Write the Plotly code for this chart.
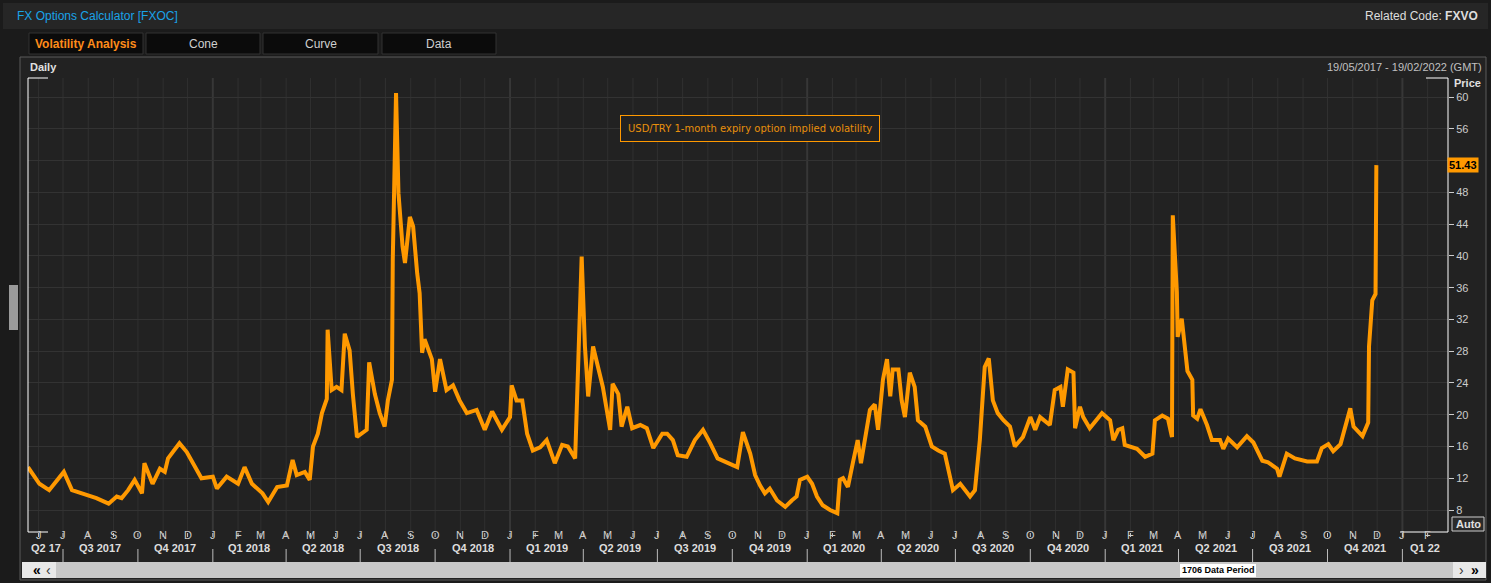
import plotly.graph_objects as go
import pandas as pd

dates = ["2017-05-19","2017-06-02","2017-06-14","2017-07-02","2017-07-12","2017-07-24","2017-08-11","2017-08-26",
"2017-09-05","2017-09-11","2017-09-19","2017-09-27","2017-10-06","2017-10-09","2017-10-19","2017-10-28","2017-11-03",
"2017-11-07","2017-11-21","2017-11-30","2017-12-12","2017-12-18","2018-01-01","2018-01-06","2018-01-18","2018-02-01",
"2018-02-09","2018-02-18","2018-03-03","2018-03-10","2018-03-21","2018-04-02","2018-04-09","2018-04-14","2018-04-24",
"2018-04-30","2018-05-04","2018-05-10","2018-05-15","2018-05-21","2018-05-22","2018-05-27","2018-06-02","2018-06-08",
"2018-06-12","2018-06-18","2018-06-22","2018-06-27","2018-07-09","2018-07-12","2018-07-19","2018-07-25","2018-07-31",
"2018-08-04","2018-08-09","2018-08-10","2018-08-14","2018-08-17","2018-08-22","2018-08-25","2018-08-31","2018-09-04",
"2018-09-09","2018-09-12","2018-09-15","2018-09-18","2018-09-27","2018-10-01","2018-10-07","2018-10-15","2018-10-23",
"2018-10-31","2018-11-09","2018-11-21","2018-12-01","2018-12-10","2018-12-22","2019-01-01","2019-01-03","2019-01-09",
"2019-01-16","2019-01-22","2019-01-29","2019-02-07","2019-02-15","2019-02-25","2019-03-06","2019-03-13","2019-03-22",
"2019-03-25","2019-03-30","2019-04-03","2019-04-07","2019-04-13","2019-04-18","2019-04-25","2019-05-04","2019-05-07",
"2019-05-14","2019-05-18","2019-05-25","2019-05-31","2019-06-10","2019-06-18","2019-06-26","2019-07-07","2019-07-13",
"2019-07-20","2019-07-26","2019-08-06","2019-08-16","2019-08-26","2019-09-04","2019-09-13","2019-09-26","2019-10-07",
"2019-10-14","2019-10-23","2019-10-29","2019-11-04","2019-11-10","2019-11-16","2019-11-25","2019-12-05","2019-12-13",
"2019-12-19","2019-12-23","2020-01-01","2020-01-07","2020-01-13","2020-01-20","2020-01-29","2020-02-07","2020-02-10",
"2020-02-14","2020-02-20","2020-02-26","2020-03-03","2020-03-07","2020-03-12","2020-03-18","2020-03-24","2020-03-28",
"2020-04-03","2020-04-08","2020-04-12","2020-04-15","2020-04-22","2020-04-26","2020-04-30","2020-05-06","2020-05-12",
"2020-05-16","2020-05-25","2020-06-02","2020-06-10","2020-06-18","2020-06-28","2020-07-07","2020-07-19","2020-07-25",
"2020-07-31","2020-08-06","2020-08-11","2020-08-16","2020-08-22","2020-08-29","2020-09-06","2020-09-12","2020-09-22",
"2020-10-01","2020-10-07","2020-10-13","2020-10-25","2020-10-31","2020-11-07","2020-11-10","2020-11-16","2020-11-23",
"2020-11-25","2020-12-01","2020-12-05","2020-12-13","2020-12-28","2021-01-07","2021-01-11","2021-01-17","2021-01-22",
"2021-01-25","2021-02-09","2021-02-19","2021-02-28","2021-03-03","2021-03-12","2021-03-19","2021-03-24","2021-03-25",
"2021-03-30","2021-03-31","2021-04-05","2021-04-12","2021-04-18","2021-04-19","2021-04-24","2021-04-28","2021-05-06",
"2021-05-12","2021-05-22","2021-05-26","2021-06-01","2021-06-12","2021-06-24","2021-07-02","2021-07-13","2021-07-20",
"2021-07-31","2021-08-03","2021-08-12","2021-08-22","2021-09-06","2021-09-18","2021-09-24","2021-10-02","2021-10-08",
"2021-10-17","2021-10-29","2021-11-02","2021-11-13","2021-11-20","2021-11-21","2021-11-25","2021-11-29","2021-11-30"]

vols = [13.4,11.3,10.5,12.8,10.5,10.1,9.5,8.8,9.7,9.5,10.5,11.8,10.1,13.9,11.3,13.2,12.8,
14.5,16.4,15.3,13.0,12.0,12.2,10.7,12.2,11.3,13.4,11.3,10.1,9.0,10.9,11.1,14.3,12.4,12.8,
11.8,16.0,17.6,20.2,22.0,30.7,23.1,23.5,23.1,30.2,28.1,22.6,17.2,18.1,26.6,22.6,20.2,18.5,
21.8,24.4,39.5,60.5,47.9,41.2,39.1,44.9,43.7,37.8,35.3,27.8,29.5,27.0,22.9,27.0,23.1,23.7,
21.8,20.2,20.6,18.1,20.4,18.1,19.7,23.7,21.8,21.8,17.6,15.5,15.9,16.8,13.9,16.2,16.0,14.5,
24.4,39.9,28.6,22.3,28.6,26.5,23.5,18.1,23.9,22.6,18.5,21.0,18.3,18.7,18.3,15.8,17.6,17.6,
16.8,14.9,14.7,16.8,18.1,16.4,14.5,13.9,13.4,17.8,15.1,12.4,11.1,10.1,10.7,9.2,8.4,9.2,
9.7,11.8,12.2,11.3,9.7,8.6,8.0,7.6,11.8,12.0,10.9,13.9,16.8,13.9,16.8,20.6,21.3,18.1,
24.4,27.0,22.3,25.7,25.7,21.8,19.7,25.3,23.5,19.3,18.5,16.0,15.5,15.1,10.5,11.3,9.7,10.5,
16.8,26.0,27.1,21.8,20.2,19.3,18.5,16.0,17.2,19.7,18.1,19.7,18.7,23.1,23.5,21.0,25.7,25.3,
18.3,21.0,19.7,18.3,20.2,19.3,16.8,18.1,18.3,16.2,15.7,14.7,15.1,19.3,19.9,19.5,17.2,45.1,
35.4,29.8,32.1,25.5,24.4,19.9,19.5,20.7,18.7,16.8,16.8,15.7,17.0,15.9,17.3,16.5,14.2,14.0,
13.2,12.2,15.1,14.5,14.1,14.1,15.8,16.3,15.4,16.3,20.8,18.5,17.3,19.0,28.6,34.4,35.2,51.43]

price_ticks = [8,12,16,20,24,28,32,36,40,44,48,52,56,60]
price_labels = ["8","12","16","20","24","28","32","36","40","44","48","","56","60"]
month_letters = "JFMAMJJASOND"
quarters = [("Q2 17","2017-05-19","2017-07-01"),("Q3 2017","2017-07-01","2017-10-01"),("Q4 2017","2017-10-01","2018-01-01"),
("Q1 2018","2018-01-01","2018-04-01"),("Q2 2018","2018-04-01","2018-07-01"),("Q3 2018","2018-07-01","2018-10-01"),
("Q4 2018","2018-10-01","2019-01-01"),("Q1 2019","2019-01-01","2019-04-01"),("Q2 2019","2019-04-01","2019-07-01"),
("Q3 2019","2019-07-01","2019-10-01"),("Q4 2019","2019-10-01","2020-01-01"),("Q1 2020","2020-01-01","2020-04-01"),
("Q2 2020","2020-04-01","2020-07-01"),("Q3 2020","2020-07-01","2020-10-01"),("Q4 2020","2020-10-01","2021-01-01"),
("Q1 2021","2021-01-01","2021-04-01"),("Q2 2021","2021-04-01","2021-07-01"),("Q3 2021","2021-07-01","2021-10-01"),
("Q4 2021","2021-10-01","2022-01-01"),("Q1 22","2022-01-01","2022-02-26")]

X0, X1 = "2017-05-19", "2022-02-26"
months = pd.date_range("2017-06-01", "2022-02-01", freq="MS")

L, R, T, B = 28, 1448, 78, 532
def px(x): return (x - L) / (R - L)
def py(y): return (B - y) / (B - T)

FONT = "Liberation Sans"
fig = go.Figure()
fig.add_trace(go.Scatter(x=dates, y=vols, mode="lines", line=dict(color="#ff9900", width=4), hoverinfo="x+y"))

shapes = []
def rect(x0, y0, x1, y1, fill, line=None, w=1):
    shapes.append(dict(type="rect", xref="paper", yref="paper", x0=px(x0), x1=px(x1), y0=py(y1), y1=py(y0),
                       fillcolor=fill, line=dict(color=line or fill, width=w if line else 0), layer="below"))
rect(0, 0, 1491, 583, "#1b1b1b")
rect(3, 3, 1488, 29, "#262626")
rect(20, 57, 1486, 580, "#222222", "#5a5a5a", 1)
tabs = [(29, 143, "Volatility Analysis", "#ff8c1a"), (146, 260, "Cone", "#cfcfcf"),
        (263, 378, "Curve", "#cfcfcf"), (382, 496, "Data", "#cfcfcf")]
for x0, x1, lab, col in tabs:
    rect(x0, 33, x1, 54, "#0b0b0b", "#333333", 1)
rect(22, 562, 1486, 578, "#c8c8c8")
rect(22, 562, 56, 578, "#e8e8e8")
rect(1453, 562, 1486, 578, "#e8e8e8")
rect(9, 285, 18, 330, "#9a9a9a")
rect(1180, 564, 1256, 577, "#ffffff")
rect(1452, 517, 1484, 531, "#2a2a2a", "#cccccc", 1)

for m in months:
    thick = m.month == 1
    shapes.append(dict(type="line", xref="x", yref="paper", x0=m, x1=m, y0=0, y1=1,
                       line=dict(color="#373737" if thick else "#303030", width=2 if thick else 1), layer="below"))
    shapes.append(dict(type="line", xref="x", yref="paper", x0=m, x1=m, y0=py(533), y1=py(537),
                       line=dict(color="#cccccc", width=1)))
for q in quarters[1:]:
    shapes.append(dict(type="line", xref="x", yref="paper", x0=q[1], x1=q[1], y0=py(549), y1=py(562),
                       line=dict(color="#bbbbbb", width=1)))
def pl(x0, y0, x1, y1, c="#ffffff"):
    shapes.append(dict(type="line", xref="paper", yref="paper", x0=px(x0), x1=px(x1), y0=py(y0), y1=py(y1),
                       line=dict(color=c, width=1)))
pl(28, 78, 28, 532); pl(28, 78, 48, 78); pl(28, 532, 48, 532)
pl(1448, 78, 1448, 532); pl(1426, 78, 1448, 78); pl(1400, 532, 1448, 532)

ann = []
def text(x, y, s, size=12, color="#d0d0d0", anchor="left", bold=False, **kw):
    ann.append(dict(xref="paper", yref="paper", x=px(x), y=py(y), text=f"<b>{s}</b>" if bold else s,
                    showarrow=False, xanchor=anchor, yanchor="middle",
                    font=dict(family=FONT, size=size, color=color), **kw))
text(15, 16, "FX Options Calculator [FXOC]", 12, "#1aa3e8")
text(1480, 16, "Related Code: <b>FXVO</b>", 12, "#dddddd", "right")
for x0, x1, lab, col in tabs:
    text((x0 + x1) / 2, 44, lab, 12, col, "center", bold=(col == "#ff8c1a"))
text(28, 67, "Daily", 11, "#e0e0e0", bold=True)
text(1484, 67, "19/05/2017 - 19/02/2022 (GMT)", 11, "#c0c0c0", "right")
text(1452, 83, "Price", 11, "#e0e0e0", bold=True)
text(1468, 524, "Auto", 11, "#e0e0e0", "center", bold=True)
text(1218, 570, "1706 Data Period", 9, "#000000", "center", bold=True)
text(31, 570, "«", 14, "#000000", "left", bold=True)
text(44, 570, "‹", 14, "#333333", "left")
text(1457, 570, "›", 14, "#333333", "left")
text(1469, 570, "»", 14, "#000000", "left", bold=True)
ann.append(dict(xref="paper", yref="paper", x=px(750), y=py(115), text="USD/TRY 1-month expiry option implied volatility",
                showarrow=False, font=dict(family="DejaVu Sans", size=10, color="#e8900c"),
                bordercolor="#ff9900", borderwidth=1, borderpad=7, bgcolor="#222222"))
ann.append(dict(xref="paper", yref="y", x=px(1447), y=vols[-1], text="<b>51.43</b>", xanchor="left", showarrow=False,
                font=dict(family=FONT, size=11, color="#000000"), bgcolor="#ff9900", borderpad=1))
for m in months:
    ann.append(dict(xref="x", yref="paper", x=m, y=py(543), text=month_letters[m.month - 1], showarrow=False,
                    font=dict(family=FONT, size=11, color="#cccccc")))
for lab, a, b in quarters:
    mid = pd.Timestamp(a) + (pd.Timestamp(b) - pd.Timestamp(a)) / 2
    ann.append(dict(xref="x", yref="paper", x=mid, y=py(556), text=f"<b>{lab}</b>", showarrow=False,
                    font=dict(family=FONT, size=11, color="#dddddd")))

fig.update_layout(
    width=1491, height=583, margin=dict(l=L, r=1491 - R, t=T, b=583 - B),
    paper_bgcolor="#1b1b1b", plot_bgcolor="rgba(0,0,0,0)", showlegend=False,
    shapes=shapes, annotations=ann,
    xaxis=dict(type="date", range=[X0, X1], showgrid=False, showticklabels=False, zeroline=False),
    yaxis=dict(side="right", range=[5.23, 62.4], tickvals=price_ticks, ticktext=price_labels,
               ticks="outside", ticklen=5, tickcolor="#cccccc", gridcolor="#333333", zeroline=False,
               tickfont=dict(family=FONT, size=11, color="#cccccc")),
)
fig.write_html("out.html", config={"displayModeBar": False},
               post_script="document.body.style.margin='0';document.body.style.overflow='hidden';")
